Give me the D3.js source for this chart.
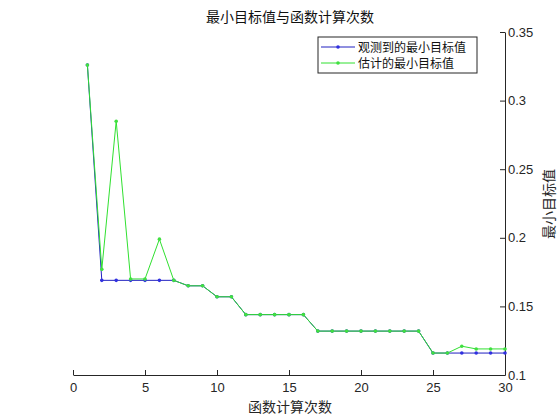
<!DOCTYPE html>
<html><head><meta charset="utf-8">
<script src="https://d3js.org/d3.v7.min.js"></script>
<style>body{margin:0;background:#fff}text{font-family:"Noto Sans CJK SC","DejaVu Sans",sans-serif}</style>
</head><body>
<script>
var evals = d3.range(1, 31);
var observed = [0.326,0.169,0.169,0.169,0.169,0.169,0.169,0.165,0.165,0.157,0.157,0.144,0.144,0.144,0.144,0.144,0.132,0.132,0.132,0.132,0.132,0.132,0.132,0.132,0.116,0.116,0.116,0.116,0.116,0.116];
var estimated = [0.326,0.177,0.285,0.170,0.170,0.199,0.169,0.165,0.165,0.157,0.157,0.144,0.144,0.144,0.144,0.144,0.132,0.132,0.132,0.132,0.132,0.132,0.132,0.132,0.116,0.116,0.121,0.119,0.119,0.119];
var seriesNames = ["观测到的最小目标值", "估计的最小目标值"];
var xTicks = [0,5,10,15,20,25,30];
var yTicks = [0.1,0.15,0.2,0.25,0.3,0.35];

var svg = d3.select("body").append("svg").attr("width", 560).attr("height", 420);
var x = d3.scaleLinear().domain([0, 30]).range([73, 505]);
var y = d3.scaleLinear().domain([0.1, 0.35]).range([375, 32]);

var xAxis = svg.append("g").attr("transform", "translate(0,375)")
    .call(d3.axisBottom(x).tickValues(xTicks).tickSizeInner(-5).tickSizeOuter(0).tickPadding(8));
var yAxis = svg.append("g").attr("transform", "translate(505,0)")
    .call(d3.axisRight(y).tickValues(yTicks).tickFormat(function(d){ return String(+d.toFixed(2)); })
        .tickSizeInner(-5).tickSizeOuter(0).tickPadding(3));
[xAxis, yAxis].forEach(function(a) {
    a.selectAll("path,line").attr("stroke", "#262626");
    a.selectAll("text").attr("fill", "#262626").style("font-size", "13px").style("font-family", "Arial, 'Liberation Sans', sans-serif");
});

var line = d3.line().x(function(d, i){ return x(evals[i]); }).y(function(d){ return y(d); });
var strokes = ["#2020c0", "#30e030"];
var fills = ["#3030e0", "#40e040"];
[observed, estimated].forEach(function(s, k) {
    svg.append("path").datum(s).attr("d", line).attr("fill", "none")
        .attr("stroke", strokes[k]).attr("stroke-width", 1);
    svg.selectAll(".m" + k).data(s).enter().append("circle")
        .attr("cx", function(d, i){ return x(evals[i]); }).attr("cy", function(d){ return y(d); })
        .attr("r", 1.8).attr("fill", fills[k]);
});

svg.append("text").attr("x", 290).attr("y", 22).attr("text-anchor", "middle")
    .style("font-size", "14px").attr("fill", "#111").text("最小目标值与函数计算次数");
svg.append("text").attr("x", 290).attr("y", 412).attr("text-anchor", "middle")
    .style("font-size", "14px").attr("fill", "#262626").text("函数计算次数");
svg.append("text").attr("transform", "translate(554,204) rotate(-90)").attr("text-anchor", "middle")
    .style("font-size", "14px").attr("fill", "#262626").text("最小目标值");

var lg = svg.append("g").attr("transform", "translate(318,37)");
lg.append("rect").attr("width", 159).attr("height", 36).attr("fill", "#fff").attr("stroke", "#262626");
seriesNames.forEach(function(n, k) {
    var yy = 10 + k * 16;
    lg.append("line").attr("x1", 3).attr("x2", 37).attr("y1", yy).attr("y2", yy).attr("stroke", strokes[k]);
    lg.append("circle").attr("cx", 20).attr("cy", yy).attr("r", 1.8).attr("fill", fills[k]);
    lg.append("text").attr("x", 40).attr("y", yy + 4.5).style("font-size", "12px").attr("fill", "#111").text(n);
});
</script>
</body></html>
